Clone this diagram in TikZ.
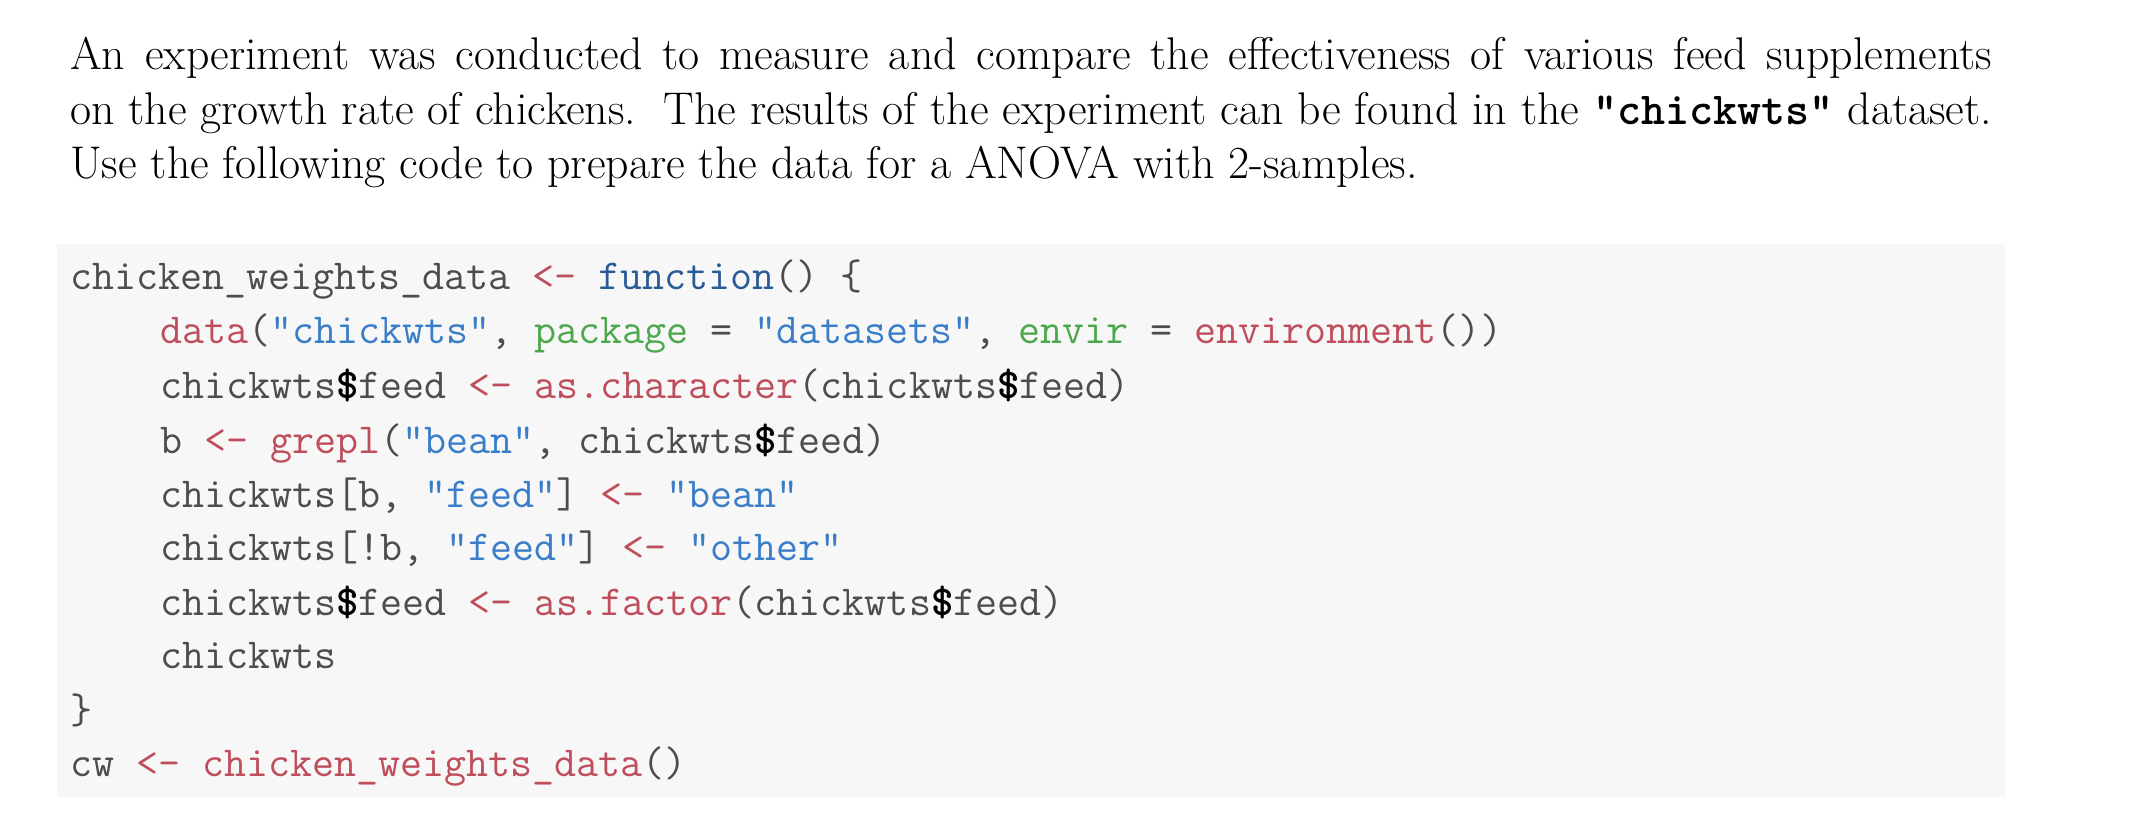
\documentclass[tikz,border=0pt]{standalone}
\usepackage{xcolor}
\definecolor{cgray}{HTML}{4D4D4D}
\definecolor{cred}{HTML}{BE4E5C}
\definecolor{cblue}{HTML}{3A7DC9}
\definecolor{cgreen}{HTML}{4DA84D}
\definecolor{ckw}{HTML}{2A5B96}
\definecolor{cbg}{HTML}{F7F7F7}
\newcommand{\Rr}[1]{\textcolor{cred}{#1}}
\newcommand{\Ss}[1]{\textcolor{cblue}{#1}}
\newcommand{\Gg}[1]{\textcolor{cgreen}{#1}}
\newcommand{\Kk}[1]{\textcolor{ckw}{#1}}
\newcommand{\Dd}{\textcolor{black}{\textbf{\$}}}
\begin{document}
\begin{tikzpicture}[x=1bp,y=-1bp,
  prose/.style={anchor=base west,inner sep=0pt,font=\fontsize{46}{54}\selectfont},
  code/.style={anchor=base west,inner sep=0pt,text=cgray,font=\fontsize{42.9}{54}\selectfont\ttfamily}]
\useasboundingbox (0,0) rectangle (2142,838);
\fill[white] (0,0) rectangle (2142,838);
\fill[cbg] (57,244) rectangle (2005,797);
\node[prose] (p1) at (70,69) {\makebox[1922bp][s]{An experiment was conducted to measure and compare the effectiveness of various feed supplements}};
\node[prose] (p2) at (70,124) {\makebox[1922bp][s]{on the growth rate of chickens.\ \ The results of the experiment can be found in the \texttt{\textbf{"chickwts"}} dataset.}};
\node[prose] (p3) at (70,178) {Use the following code to prepare the data for a ANOVA with 2-samples.};
\node[code] (c1) at (70,289) {chicken\_weights\_data \Rr{<-} \Kk{function}() \{};
\node[code] (c2) at (160,343) {\Rr{data}(\Ss{"chickwts"}, \Gg{package} = \Ss{"datasets"}, \Gg{envir} = \Rr{environment}())};
\node[code] (c3) at (160,398) {chickwts\Dd feed \Rr{<-} \Rr{as.character}(chickwts\Dd feed)};
\node[code] (c4) at (160,453) {b \Rr{<-} \Rr{grepl}(\Ss{"bean"}, chickwts\Dd feed)};
\node[code] (c5) at (160,507) {chickwts[b, \Ss{"feed"}] \Rr{<-} \Ss{"bean"}};
\node[code] (c6) at (160,560) {chickwts[!b, \Ss{"feed"}] \Rr{<-} \Ss{"other"}};
\node[code] (c7) at (160,615) {chickwts\Dd feed \Rr{<-} \Rr{as.factor}(chickwts\Dd feed)};
\node[code] (c8) at (160,668) {chickwts};
\node[code] (c9) at (70,723) {\}};
\node[code] (c10) at (70,776) {cw \Rr{<-} \Rr{chicken\_weights\_data}()};
\end{tikzpicture}
\end{document}
